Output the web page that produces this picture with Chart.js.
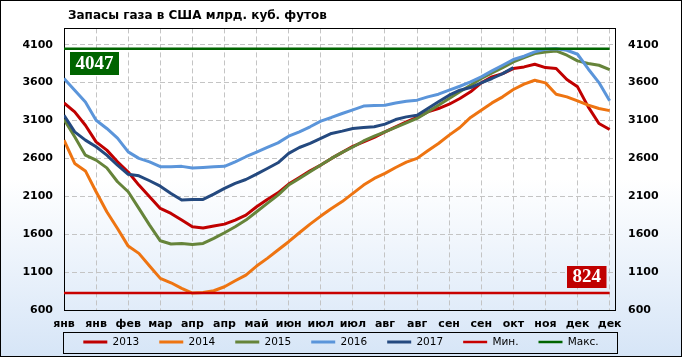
<!DOCTYPE html>
<html><head><meta charset="utf-8">
<script src="https://cdn.jsdelivr.net/npm/chart.js@4.4.1/dist/chart.umd.min.js"></script>
<style>html,body{margin:0;padding:0;background:#fff}canvas{display:block}</style>
</head><body>
<canvas id="c" width="682" height="357"></canvas>
<script>
const titleText = 'Запасы газа в США млрд. куб. футов';
const tickLabels = ['янв','янв','фев','мар','апр','апр','май','июн','июл','июл','авг','авг','сен','сен','окт','ноя','дек','дек'];
const yTicks = [600,1100,1600,2100,2600,3100,3600,4100];
const weeks = [0,1,2,3,4,5,6,7,8,9,10,11,12,13,14,15,16,17,18,19,20,21,22,23,24,25,26,27,28,29,30,31,32,33,34,35,36,37,38,39,40,41,42,43,44,45,46,47,48,49,50,51];
const s2013 = [3331,3214,3038,2818,2709,2555,2420,2248,2094,1940,1874,1786,1698,1681,1707,1733,1786,1852,1962,2059,2146,2261,2349,2437,2512,2600,2680,2760,2818,2876,2950,3016,3082,3140,3214,3258,3315,3390,3478,3597,3675,3719,3785,3807,3842,3798,3785,3640,3544,3280,3060,2981];
const s2014 = [2841,2533,2435,2160,1896,1676,1443,1347,1180,1017,959,885,824,830,854,907,986,1061,1180,1281,1391,1501,1619,1733,1839,1940,2030,2138,2248,2336,2402,2480,2550,2600,2700,2797,2907,3008,3140,3236,3332,3412,3509,3579,3631,3596,3447,3412,3359,3302,3258,3230];
const s2015 = [3113,2885,2643,2577,2475,2292,2160,1940,1720,1513,1470,1478,1465,1478,1545,1619,1698,1786,1896,2006,2116,2248,2336,2424,2512,2600,2680,2750,2830,2893,2950,3008,3069,3127,3214,3302,3390,3478,3566,3654,3728,3798,3872,3930,3983,4005,4018,3961,3886,3851,3829,3772];
const s2016 = [3654,3500,3345,3104,2995,2867,2686,2600,2555,2490,2490,2495,2472,2480,2490,2496,2555,2622,2683,2744,2805,2893,2951,3017,3092,3140,3192,3240,3290,3298,3302,3332,3355,3368,3412,3447,3500,3552,3609,3675,3754,3829,3904,3948,4005,4040,4047,4027,3974,3780,3600,3360];
const s2017 = [3170,2950,2841,2753,2643,2510,2390,2370,2305,2234,2138,2050,2059,2059,2129,2204,2270,2322,2392,2467,2542,2666,2744,2797,2863,2929,2960,2995,3008,3017,3052,3113,3148,3170,3258,3346,3434,3500,3535,3597,3654,3719,3798,null,null,null,null,null,null,null,null,null];
const minValue = 824;
const maxValue = 4047;
const minSeries = weeks.map(() => minValue);
const maxSeries = weeks.map(() => maxValue);
const seriesNames = ['2013','2014','2015','2016','2017','Мин.','Макс.'];
const seriesData = [s2013, s2014, s2015, s2016, s2017, minSeries, maxSeries];
const seriesColors = ['#c00000','#ee7411','#66843a','#5b95da','#24497f','#c80000','#006400'];
const seriesWidths = [3,3,3,3,3,2.5,2.5];

const Y_MIN = 600, Y_MAX = 4315;
const tickFont = {family:'DejaVu Sans', size:11, weight:'bold'};

const datasets = seriesNames.map((n, i) => ({
  label: n,
  data: seriesData[i],
  borderColor: seriesColors[i],
  backgroundColor: seriesColors[i],
  borderWidth: seriesWidths[i],
  pointRadius: 0,
  tension: 0,
  borderJoinStyle: 'round',
  borderCapStyle: 'butt',
  spanGaps: false,
  order: -i,
  xAxisID: 'x', yAxisID: 'y'
}));

const decoPlugin = {
  id: 'deco',
  beforeLayout(chart) {
    const lg = chart.legend;
    if (lg && !lg.__p) {
      const f = lg.fit;
      lg.fit = function () { f.call(this); this.height = 27; };
      lg.__p = true;
    }
  },
  afterLayout(chart) {
    const a = chart.chartArea;
    if (chart.titleBlock) chart.titleBlock.left = a.left + 4;
    const lg = chart.legend;
    if (lg) {
      const pad = lg.options.labels.padding;
      const fs = lg.options.labels.font.size;
      lg.top = a.bottom + 32 - fs / 2 - pad;
      lg.bottom = chart.height;
      lg.height = lg.bottom - lg.top;
    }
  },
  beforeDraw(chart) {
    const {ctx, width, height} = chart;
    ctx.save();
    const g = ctx.createLinearGradient(0, 0, 0, height);
    g.addColorStop(0, '#ffffff');
    g.addColorStop(0.5, '#ffffff');
    g.addColorStop(1, '#d6e5f7');
    ctx.fillStyle = g;
    ctx.fillRect(0, 0, width, height);
    ctx.restore();
  },
  beforeDatasetsDraw(chart) {
    const {ctx, chartArea: a} = chart;
    ctx.save();
    ctx.strokeStyle = '#000';
    ctx.lineWidth = 1;
    const l = Math.round(a.left), t = Math.round(a.top), r = Math.round(a.right), b = Math.round(a.bottom);
    ctx.strokeRect(l + 0.5, t + 0.5, r - l, b - t);
    ctx.restore();
  },
  afterDatasetsDraw(chart) {
    const {ctx, chartArea: a} = chart;
    const ys = chart.scales.y;
    ctx.save();
    ctx.font = 'bold 19px "Liberation Serif", serif';
    ctx.textAlign = 'center';
    ctx.textBaseline = 'middle';
    const tMax = String(maxValue);
    const wMax = ctx.measureText(tMax).width + 11;
    const yMaxPix = ys.getPixelForValue(maxValue);
    const bx1 = Math.round(a.left + 6), by1 = Math.round(yMaxPix + 3);
    ctx.fillStyle = seriesColors[6];
    ctx.fillRect(bx1, by1, wMax, 23);
    ctx.fillStyle = '#fff';
    ctx.fillText(tMax, bx1 + wMax / 2, by1 + 12);
    const tMin = String(minValue);
    const wMin = ctx.measureText(tMin).width + 11;
    const yMinPix = ys.getPixelForValue(minValue);
    const bx2 = Math.round(a.right - 9 - wMin), by2 = Math.round(yMinPix - 5 - 22);
    ctx.fillStyle = '#c00000';
    ctx.fillRect(bx2, by2, wMin, 22);
    ctx.fillStyle = '#fff';
    ctx.fillText(tMin, bx2 + wMin / 2, by2 + 11.5);
    ctx.restore();
  },
  afterDraw(chart) {
    const {ctx, chartArea: a, width, height} = chart;
    ctx.save();
    ctx.strokeStyle = '#000';
    ctx.lineWidth = 1;
    const l = Math.round(a.left) - 1, r = Math.round(a.right) + 2, b = Math.round(a.bottom);
    ctx.strokeRect(l + 0.5, b + 22 + 0.5, r - l, 21);
    ctx.strokeRect(0.5, 0.5, width - 1, height - 1);
    ctx.restore();
  }
};

new Chart(document.getElementById('c'), {
  type: 'line',
  data: { labels: weeks, datasets },
  plugins: [decoPlugin],
  options: {
    responsive: false,
    animation: false,
    devicePixelRatio: 1,
    layout: { padding: 0 },
    plugins: {
      tooltip: { enabled: false },
      title: {
        display: true,
        text: titleText,
        align: 'start',
        color: '#000',
        font: { family: 'DejaVu Sans', size: 12, weight: 'bold' },
        padding: { top: 9, bottom: 5 }
      },
      legend: {
        display: true,
        position: 'bottom',
        labels: {
          color: '#000',
          font: { family: 'DejaVu Sans', size: 10.5 },
          usePointStyle: true,
          pointStyle: 'line',
          pointStyleWidth: 24,
          padding: 20,
          sort: (a, b) => a.datasetIndex - b.datasetIndex
        }
      }
    },
    scales: {
      x: {
        type: 'linear',
        bounds: 'data',
        min: 0,
        max: 51.5,
        afterFit: (s) => { s.height = 20; },
        ticks: {
          stepSize: 3,
          includeBounds: false,
          autoSkip: false,
          maxRotation: 0,
          padding: 8,
          color: '#000',
          font: tickFont,
          callback: (v) => tickLabels[Math.round(v / 3)] ?? ''
        },
        grid: { color: '#c4c4c4', lineWidth: 1, drawTicks: false },
        border: { display: false, dash: [5, 3] }
      },
      y: {
        type: 'linear',
        position: 'left',
        bounds: 'data',
        min: Y_MIN,
        max: Y_MAX,
        afterFit: (s) => { s.width = 64; },
        afterBuildTicks: (s) => { s.ticks = yTicks.map(v => ({ value: v })); },
        ticks: { padding: 11, color: '#000', font: tickFont, callback: (v) => String(v) },
        grid: { color: '#c4c4c4', lineWidth: 1, drawTicks: false },
        border: { display: false, dash: [5, 3] }
      },
      y2: {
        type: 'linear',
        position: 'right',
        bounds: 'data',
        min: Y_MIN,
        max: Y_MAX,
        afterFit: (s) => { s.width = 67; },
        afterBuildTicks: (s) => { s.ticks = yTicks.map(v => ({ value: v })); },
        ticks: { padding: 13, color: '#000', font: tickFont, callback: (v) => String(v) },
        grid: { display: false, drawTicks: false },
        border: { display: false }
      }
    }
  }
});
</script>
</body></html>
